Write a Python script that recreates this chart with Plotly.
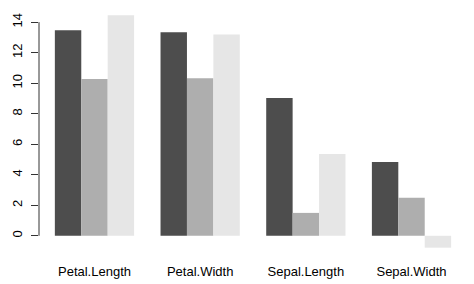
import plotly.graph_objects as go

categories = ["Petal.Length", "Petal.Width", "Sepal.Length", "Sepal.Width"]
series_a = [13.47, 13.34, 9.03, 4.84]
series_b = [10.27, 10.33, 1.50, 2.49]
series_c = [14.45, 13.20, 5.36, -0.78]
colors = ["#4D4D4D", "#AEAEAE", "#E6E6E6"]
y_ticks = [0, 2, 4, 6, 8, 10, 12, 14]

fig = go.Figure()
for vals, col in zip([series_a, series_b, series_c], colors):
    fig.add_trace(go.Bar(x=categories, y=vals, marker=dict(color=col, line=dict(width=0)),
                         showlegend=False))

font = dict(family="Liberation Sans, Arial, sans-serif", size=13, color="#000000")
fig.update_layout(
    width=474, height=284,
    margin=dict(l=39, r=7, t=6, b=27),
    paper_bgcolor="white", plot_bgcolor="white",
    barmode="group", bargap=0.25, bargroupgap=0,
    font=font,
    xaxis=dict(type="category", range=[-0.525, 3.525], showgrid=False, zeroline=False,
               showline=False, ticks="", ticklabelstandoff=5, tickfont=font),
    yaxis=dict(range=[-1.39, 15.06], showgrid=False, zeroline=False, showline=False,
               tickvals=y_ticks, ticktext=[str(v) for v in y_ticks], ticks="outside",
               ticklen=7, tickwidth=1, tickcolor="#333333", tickangle=-90, tickfont=font,
               ticklabelstandoff=4),
)
fig.add_shape(type="line", xref="paper", yref="y", x0=0, x1=0,
              y0=min(y_ticks), y1=max(y_ticks), line=dict(color="#333333", width=1))
fig.write_html("out.html")
